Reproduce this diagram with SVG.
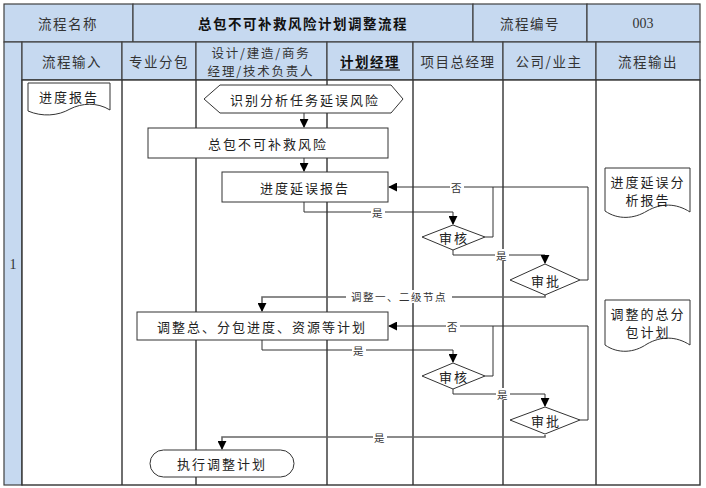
<svg xmlns="http://www.w3.org/2000/svg" width="706" height="488" viewBox="0 0 706 488">
<defs>
<style>
.hd{fill:#c6d9f0;stroke:#404040;stroke-width:1.2}
.ln{stroke:#333;stroke-width:1.4;fill:none}
.t{font-family:"Noto Sans CJK SC","Liberation Serif",sans-serif;font-size:13px;fill:#222;text-anchor:middle;dominant-baseline:central;letter-spacing:2px}
.th{font-family:"Noto Sans CJK SC","Liberation Serif",sans-serif;font-size:13.5px;fill:#333;text-anchor:middle;dominant-baseline:central;letter-spacing:1.5px}
.th2{font-family:"Noto Sans CJK SC","Liberation Serif",sans-serif;font-size:12.5px;fill:#333;text-anchor:middle;dominant-baseline:central;letter-spacing:1.8px}
.b{font-weight:bold;fill:#111}
.shape{fill:#fff;stroke:#333;stroke-width:1}
.c{stroke:#333;stroke-width:1;fill:none}
.cg{stroke:#666;stroke-width:1.6;fill:none}
.bg{fill:#fff}
.lbl{font-family:"Noto Sans CJK SC",sans-serif;font-size:10.5px;fill:#333;text-anchor:middle;dominant-baseline:central;letter-spacing:1.5px}
</style>
<marker id="ah" viewBox="0 0 10 10" refX="9" refY="5" markerWidth="9" markerHeight="9" markerUnits="userSpaceOnUse" orient="auto">
<path d="M0,0 L10,5 L0,10 Z" fill="#000"/>
</marker>
</defs>
<rect x="0" y="0" width="706" height="488" fill="#fff"/>
<g id="table">
<rect class="hd" x="4" y="4" width="129" height="38"/>
<rect class="hd" x="133" y="4" width="340" height="38"/>
<rect class="hd" x="473" y="4" width="114" height="38"/>
<rect class="hd" x="587" y="4" width="113" height="38"/>
<rect class="hd" x="4" y="42" width="18" height="443"/>
<rect class="hd" x="22" y="42" width="100" height="38"/>
<rect class="hd" x="122" y="42" width="74" height="38"/>
<rect class="hd" x="196" y="42" width="131" height="38"/>
<rect class="hd" x="327" y="42" width="86" height="38"/>
<rect class="hd" x="413" y="42" width="90" height="38"/>
<rect class="hd" x="503" y="42" width="93" height="38"/>
<rect class="hd" x="596" y="42" width="104" height="38"/>
<rect x="22" y="80" width="678" height="405" fill="#fff" stroke="#333" stroke-width="1.4"/>
<path class="ln" d="M122,80V485M196,80V485M327,80V485M413,80V485M503,80V485M596,80V485"/>
<text class="th" x="68" y="23">流程名称</text>
<text class="th b" x="303" y="23">总包不可补救风险计划调整流程</text>
<text class="th" x="530" y="23">流程编号</text>
<text x="643" y="23" font-family="Liberation Serif,serif" font-size="14" fill="#333" text-anchor="middle" dominant-baseline="central">003</text>
<text class="th" x="72" y="61">流程输入</text>
<text class="th" x="159" y="61">专业分包</text>
<text class="th2" x="261" y="52">设计/建造/商务</text>
<text class="th2" x="261" y="70">经理/技术负责人</text>
<text class="th b" x="370" y="61">计划经理</text>
<line x1="340" y1="70" x2="400" y2="70" stroke="#111" stroke-width="1.2"/>
<text class="th" x="458" y="61">项目总经理</text>
<text class="th" x="549" y="61">公司/业主</text>
<text class="th" x="648" y="61">流程输出</text>
<text x="13" y="264" font-family="Liberation Serif,serif" font-size="14" fill="#333" text-anchor="middle" dominant-baseline="central">1</text>
</g>
<g id="connectors">
<path class="c" d="M304,113V127" marker-end="url(#ah)"/>
<path class="c" d="M304,158V171" marker-end="url(#ah)"/>
<path class="c" d="M304,202V212H453V224" marker-end="url(#ah)"/>
<path class="c" d="M485,237H493V187H389" marker-end="url(#ah)"/>
<path class="c" d="M580,280H588V187H493"/>
<path class="c" d="M453,250V255H545V263" marker-end="url(#ah)"/>
<path class="cg" d="M545,295V297H262V311" marker-end="url(#ah)"/>
<path class="c" d="M262,340V350H453V362" marker-end="url(#ah)"/>
<path class="c" d="M485,376H493V326H389" marker-end="url(#ah)"/>
<path class="c" d="M580,420H588V326H493"/>
<path class="c" d="M453,389V394H545V406" marker-end="url(#ah)"/>
<path class="cg" d="M545,435V437H222V449" marker-end="url(#ah)"/>
<rect class="bg" x="371" y="206" width="14" height="12"/><text class="lbl" x="378" y="212">是</text>
<rect class="bg" x="450" y="181" width="14" height="12"/><text class="lbl" x="457" y="187">否</text>
<rect class="bg" x="495" y="249" width="14" height="12"/><text class="lbl" x="502" y="255">是</text>
<rect class="bg" x="346" y="290" width="106" height="13"/><text class="lbl" x="399" y="296">调整一、二级节点</text>
<rect class="bg" x="352" y="344" width="14" height="12"/><text class="lbl" x="359" y="350">是</text>
<rect class="bg" x="446" y="320" width="14" height="12"/><text class="lbl" x="453" y="326">否</text>
<rect class="bg" x="496" y="388" width="14" height="12"/><text class="lbl" x="503" y="394">是</text>
<rect class="bg" x="373" y="431" width="14" height="12"/><text class="lbl" x="380" y="437">是</text>
</g>
<g id="n-input">
<path class="shape" d="M28,83H110V110C97,102 82,103 70,109C58,116 42,117 28,111Z"/>
<text class="t" x="69" y="96">进度报告</text>
</g>
<g id="n-identify">
<path class="shape" d="M204,99L220,85H391L403,99L391,113H220Z"/>
<text class="t" x="305" y="99">识别分析任务延误风险</text>
</g>
<g id="n-risk">
<rect class="shape" x="148" y="128" width="240" height="30"/>
<text class="t" x="268" y="143">总包不可补救风险</text>
</g>
<g id="n-delay">
<rect class="shape" x="222" y="172" width="166" height="30"/>
<text class="t" x="305" y="187">进度延误报告</text>
</g>
<g id="n-review1">
<path class="shape" d="M453,225L485,237L453,250L422,237Z"/>
<text class="t" x="454" y="237">审核</text>
</g>
<g id="n-approve1">
<path class="shape" d="M545,264L580,280L545,295L510,280Z"/>
<text class="t" x="546" y="280">审批</text>
</g>
<g id="n-adjust">
<rect class="shape" x="137" y="312" width="251" height="28"/>
<text class="t" x="262" y="326">调整总、分包进度、资源等计划</text>
</g>
<g id="n-review2">
<path class="shape" d="M453,363L485,376L453,389L422,376Z"/>
<text class="t" x="454" y="376">审核</text>
</g>
<g id="n-approve2">
<path class="shape" d="M545,407L580,420L545,434L510,420Z"/>
<text class="t" x="546" y="420">审批</text>
</g>
<g id="n-exec">
<rect class="shape" x="150" y="450" width="144" height="27" rx="13.5"/>
<text class="t" x="222" y="463">执行调整计划</text>
</g>
<g id="n-out1">
<path class="shape" d="M605,168H690V212C676,203 661,203 647,211C634,219 618,220 605,211Z"/>
<text class="t" x="648" y="181" letter-spacing="1px">进度延误分</text>
<text class="t" x="648" y="199" letter-spacing="1px">析报告</text>
</g>
<g id="n-out2">
<path class="shape" d="M605,300H690V345C676,336 661,336 647,344C634,353 618,354 605,345Z"/>
<text class="t" x="648" y="313" letter-spacing="1px">调整的总分</text>
<text class="t" x="648" y="331" letter-spacing="1px">包计划</text>
</g>
</svg>
